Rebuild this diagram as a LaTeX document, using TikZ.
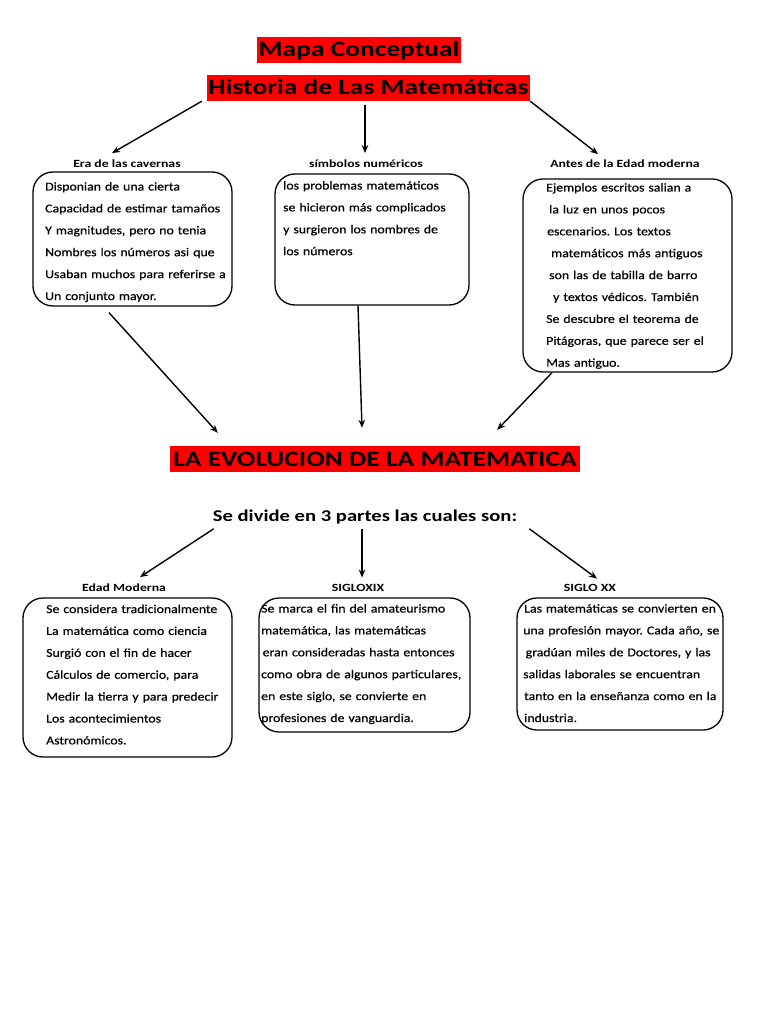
\documentclass[tikz,border=0pt]{standalone}
\usepackage{fontspec}
\setmainfont{Carlito}
\newfontfamily\ttlfont[FakeStretch=1.26]{Carlito}
\newfontfamily\headfont[FakeStretch=1.25]{Carlito}
\newfontfamily\bodyfont[FakeStretch=1.15,FakeBold=0.5]{Carlito}
\usetikzlibrary{arrows.meta,calc}
\tikzset{
  redbox/.style={fill=red, inner sep=0pt, text height=14pt, text depth=0pt, minimum height=26pt,
    font=\ttlfont\bfseries\fontsize{21.8}{25}\selectfont},
  head/.style={inner sep=0pt, anchor=base, font=\headfont\bfseries\fontsize{11}{13}\selectfont},
  sub/.style={inner sep=0pt, anchor=base, font=\headfont\bfseries\fontsize{16.5}{19}\selectfont},
  roundbox/.style={draw=black, line width=1.3pt, rounded corners=20pt, inner sep=0pt},
  bodytext/.style={inner sep=0pt, anchor=base west, text width=230pt, align=left,
    font=\bodyfont\frenchspacing\fontsize{12}{21.9}\selectfont},
  arr/.style={line width=1.4pt, -{Stealth[length=8pt,width=6.5pt]}}
}
\begin{document}
\begin{tikzpicture}[x=1pt,y=-1pt]
\useasboundingbox[fill=white] (0,0) rectangle (768,1024);

% titles
\node[redbox, minimum width=204pt] (mapa) at (359,50) {Mapa Conceptual};
\node[redbox, minimum width=323pt] (hist) at (368.5,88) {Historia de Las Matemáticas};

% headings
\node[head] (h1) at (127,168) {Era de las cavernas};
\node[head] (h2) at (366,168) {símbolos numéricos};
\node[head] (h3) at (625,168) {Antes de la Edad moderna};

% boxes
\node[roundbox, minimum width=199pt, minimum height=134pt] (b1) at (132.5,239) {};
\node[roundbox, minimum width=194pt, minimum height=131pt] (b2) at (372,239.5) {};
\node[roundbox, minimum width=209pt, minimum height=193pt] (b3) at (627.5,275.5) {};

\node[bodytext] (t1) at (45,190.5) {Disponian de una cierta\\
Capacidad de estimar tamaños\\
Y magnitudes, pero no tenia\\
Nombres los números asi que\\
Usaban muchos para referirse a\\
Un conjunto mayor.};

\node[bodytext] (t2) at (283,189.5) {los problemas matemáticos\\
se hicieron más complicados\\
y surgieron los nombres de\\
los números};

\node[bodytext] (t3) at (546,191.5) {Ejemplos escritos salian a\\
\hspace*{3pt}la luz en unos pocos\\
\hspace*{1pt}escenarios. Los textos\\
\hspace*{5pt}matemáticos más antiguos\\
\hspace*{3pt}son las de tabilla de barro\\
\hspace*{7pt}y textos védicos. También\\
Se descubre el teorema de\\
Pitágoras, que parece ser el\\
Mas antiguo.};

% middle
\node[redbox, minimum width=410pt] (evol) at (375,459) {LA EVOLUCION DE LA MATEMATICA};
\node[sub] (sediv) at (365,521) {Se divide en 3 partes las cuales son:};

% bottom headings
\node[head] (h4) at (124,591) {Edad Moderna};
\node[head] (h5) at (358,591) {SIGLOXIX};
\node[head] (h6) at (590,591) {SIGLO XX};

% bottom boxes
\node[roundbox, minimum width=209pt, minimum height=159pt] (b4) at (127.5,677.5) {};
\node[roundbox, minimum width=211pt, minimum height=134pt] (b5) at (364.5,665) {};
\node[roundbox, minimum width=206pt, minimum height=132pt] (b6) at (620,664) {};

\node[bodytext] (t4) at (46,613) {Se considera tradicionalmente\\
La matemática como ciencia\\
Surgió con el fin de hacer\\
Cálculos de comercio, para\\
Medir la tierra y para predecir\\
Los acontecimientos\\
Astronómicos.};

\node[bodytext] (t5) at (261,612.5) {Se marca el fin del amateurismo\\
matemática, las matemáticas\\
\hspace*{1.5pt}eran consideradas hasta entonces\\
como obra de algunos particulares,\\
en este siglo, se convierte en\\
profesiones de vanguardia.};

\node[bodytext] (t6) at (523,612.5) {\hspace*{1pt}Las matemáticas se convierten en\\
una profesión mayor. Cada año, se\\
\hspace*{2.5pt}gradúan miles de Doctores, y las\\
salidas laborales se encuentran\\
\hspace*{1pt}tanto en la enseñanza como en la\\
\hspace*{1pt}industria.};

% arrows top
\draw[arr] ($(hist.south west)+(-5,0)$) -- ($(h1.north)+(-15,-7)$);
\draw[arr] ($(hist.south)+(-3.5,4)$) -- ($(h2.north)+(-1,-7)$);
\draw[arr] (hist.south east) -- ($(h3.north)+(-27,-6)$);
% arrows to evolution
\draw[arr] ($(b1.south)+(-23.5,6)$) -- ($(evol.north west)+(48,-13)$);
\draw[arr] ($(b2.south)+(-14,0)$) -- ($(evol.north)+(-13,-18)$);
\draw[arr] ($(b3.south)+(-75.5,0)$) -- ($(evol.north east)+(-83,-16)$);
% arrows bottom
\draw[arr] ($(sediv.south west)+(1,5)$) -- ($(h4.north)+(16,-6)$);
\draw[arr] ($(sediv.south)+(-3,5)$) -- ($(h5.north)+(4,-6)$);
\draw[arr] ($(sediv.south east)+(12,5)$) -- ($(h6.north)+(7,-5)$);
\end{tikzpicture}
\end{document}
